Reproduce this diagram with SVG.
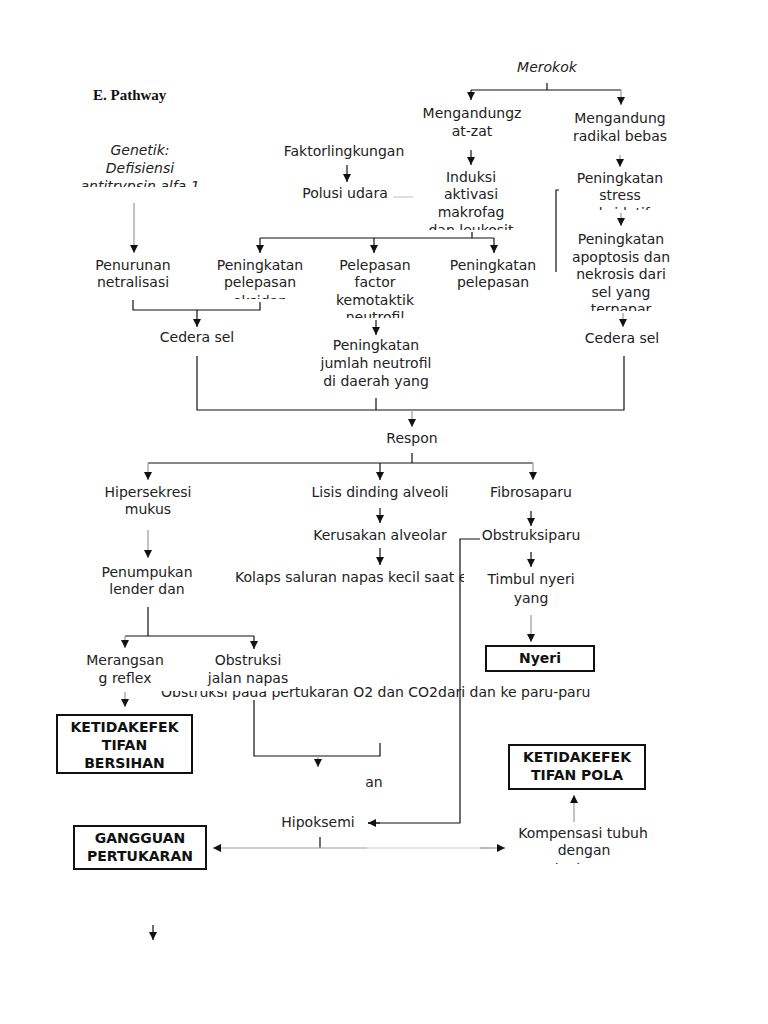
<svg xmlns="http://www.w3.org/2000/svg" width="768" height="1024" viewBox="0 0 768 1024">
<style>
text{font-family:"DejaVu Sans","Noto Sans",sans-serif;font-size:14px;fill:#222;text-anchor:middle}
.it{font-style:italic}
.b{font-weight:bold;font-size:14px;fill:#111}
.title{font-family:"Liberation Serif","DejaVu Serif",serif;font-weight:bold;font-size:15px;text-anchor:start;fill:#111}
.ln{fill:none;stroke:#111;stroke-width:1.2}
.gl{fill:none;stroke:#999;stroke-width:1.2}
.lg{fill:none;stroke:#ccc;stroke-width:1.2}
.ar{marker-end:url(#ah)}
.box{fill:#fff;stroke:#111;stroke-width:2}
</style>
<defs>
<marker id="ah" markerUnits="userSpaceOnUse" markerWidth="9" markerHeight="9" refX="8" refY="4" orient="auto"><path d="M0,0 L8,4 L0,8 z" fill="#111"/></marker>
<clipPath id="c1"><rect x="40" y="176" width="200" height="11"/></clipPath>
<clipPath id="c2"><rect x="400" y="220" width="140" height="10"/></clipPath>
<clipPath id="c3"><rect x="560" y="200" width="120" height="10"/></clipPath>
<clipPath id="c4"><rect x="560" y="298" width="120" height="13"/></clipPath>
<clipPath id="c5"><rect x="200" y="290" width="120" height="9"/></clipPath>
<clipPath id="c6"><rect x="320" y="306" width="120" height="12"/></clipPath>
<clipPath id="c7"><rect x="500" y="856" width="170" height="8"/></clipPath>
<clipPath id="c8"><rect x="200" y="560" width="264" height="40"/></clipPath>
</defs>
<rect width="768" height="1024" fill="#fff"/>

<text class="title" x="93" y="100">E. Pathway</text>

<g id="connectors">
<path class="ln" d="M547,83 V90 M471,90 H621"/>
<path class="ln ar" d="M471,90 V100"/>
<path class="gl ar" d="M621,90 V105"/>
<path class="ln ar" d="M471,150 V165"/>
<path class="gl ar" d="M620,155 V167"/>
<path class="gl ar" d="M621,213 V226"/>
<path class="ln" d="M559,190 H556 V272"/>
<path class="gl ar" d="M134,203 V253"/>
<path class="ln ar" d="M347,165 V182"/>
<path class="lg" d="M393,197 H413"/>
<path class="ln" d="M472,232 V238 M260,238 H494"/>
<path class="ln ar" d="M260,238 V253"/>
<path class="ln ar" d="M374,238 V253"/>
<path class="ln ar" d="M494,238 V253"/>
<path class="ln" d="M133,300 V310 H260 V302"/>
<path class="ln ar" d="M197,310 V327"/>
<path class="ln ar" d="M376,320 V335"/>
<path class="gl ar" d="M623,313 V327"/>
<path class="ln" d="M197,356 V410 H624 V356 M376,398 V410"/>
<path class="gl ar" d="M412,410 V427"/>
<path class="ln" d="M412,453 V463 M148,463 H533"/>
<path class="gl ar" d="M148,463 V480"/>
<path class="ln ar" d="M380,463 V480"/>
<path class="gl ar" d="M533,463 V480"/>
<path class="ln ar" d="M380,508 V523"/>
<path class="ln ar" d="M380,548 V565"/>
<path class="ln ar" d="M531,511 V526"/>
<path class="ln ar" d="M531,552 V567"/>
<path class="gl ar" d="M531,615 V642"/>
<path class="ln" d="M480,539 H460 V823 H368"/>
<path class="ln ar" d="M380,823 H368"/>
<path class="gl ar" d="M148,530 V558"/>
<path class="ln" d="M148,607 V636 M125,636 H254"/>
<path class="gl ar" d="M125,636 V648"/>
<path class="ln ar" d="M254,636 V649"/>
<path class="gl ar" d="M125,692 V707"/>
<path class="ln" d="M254,700 V756 H380 V743"/>
<path class="gl ar" d="M318,756 V767"/>
<path class="ln" d="M320,837 V848"/>
<path class="gl ar" d="M367,848 H213"/>
<path class="lg" d="M367,848 H490"/>
<path class="gl ar" d="M480,848 H505"/>
<path class="gl ar" d="M574,822 V795"/>
<path class="ln ar" d="M153,925 V940"/>
</g>

<g id="merokok"><text class="it" x="547" y="72">Merokok</text></g>
<g id="mengandung-zat"><text x="472" y="118">Mengandungz</text><text x="472" y="136">at-zat</text></g>
<g id="radikal"><text x="620" y="123">Mengandung</text><text x="620" y="141">radikal bebas</text></g>
<g id="induksi"><text x="471" y="182">Induksi</text><text x="471" y="199">aktivasi</text><text x="471" y="217">makrofag</text><text x="471" y="235" clip-path="url(#c2)">dan leukosit</text></g>
<g id="stress"><text x="620" y="183">Peningkatan</text><text x="620" y="200">stress</text><text x="620" y="218" clip-path="url(#c3)">oksidatif</text></g>
<g id="apoptosis"><text x="621" y="244">Peningkatan</text><text x="621" y="262">apoptosis dan</text><text x="621" y="279">nekrosis dari</text><text x="621" y="297">sel yang</text><text x="621" y="314" clip-path="url(#c4)">terpapar</text></g>
<g id="cedera-kanan"><text x="622" y="343">Cedera sel</text></g>
<g id="genetik"><text class="it" x="140" y="155">Genetik:</text><text class="it" x="140" y="173">Defisiensi</text><text class="it" x="140" y="191" clip-path="url(#c1)">antitrypsin alfa 1</text></g>
<g id="faktor"><text x="344" y="156">Faktorlingkungan</text></g>
<g id="polusi"><text x="345" y="198">Polusi udara</text></g>
<g id="penurunan"><text x="133" y="270">Penurunan</text><text x="133" y="287">netralisasi</text></g>
<g id="pelepasan-1"><text x="260" y="270">Peningkatan</text><text x="260" y="287">pelepasan</text><text x="260" y="306" clip-path="url(#c5)">oksidan</text></g>
<g id="kemotaktik"><text x="375" y="270">Pelepasan</text><text x="375" y="287">factor</text><text x="375" y="305">kemotaktik</text><text x="375" y="322" clip-path="url(#c6)">neutrofil</text></g>
<g id="pelepasan-2"><text x="493" y="270">Peningkatan</text><text x="493" y="287">pelepasan</text></g>
<g id="cedera-kiri"><text x="197" y="342">Cedera sel</text></g>
<g id="neutrofil"><text x="376" y="350">Peningkatan</text><text x="376" y="368">jumlah neutrofil</text><text x="376" y="386">di daerah yang</text></g>
<g id="respon"><text x="412" y="443">Respon</text></g>
<g id="hipersekresi"><text x="148" y="497">Hipersekresi</text><text x="148" y="514">mukus</text></g>
<g id="lisis"><text x="380" y="497">Lisis dinding alveoli</text></g>
<g id="fibrosa"><text x="531" y="497">Fibrosaparu</text></g>
<g id="kerusakan"><text x="380" y="540">Kerusakan alveolar</text></g>
<g id="obstruksiparu"><text x="531" y="540">Obstruksiparu</text></g>
<g id="kolaps"><text x="235" y="582" style="text-anchor:start" clip-path="url(#c8)">Kolaps saluran napas kecil saat e</text></g>
<g id="timbul"><text x="531" y="584">Timbul nyeri</text><text x="531" y="603">yang</text></g>
<g id="nyeri"><rect class="box" x="486" y="646" width="108" height="25"/><text class="b" x="540" y="663">Nyeri</text></g>
<g id="penumpukan"><text x="147" y="577">Penumpukan</text><text x="147" y="594">lender dan</text></g>
<g id="obstruksi-pertukaran"><text x="161" y="697" style="text-anchor:start">Obstruksi pada pertukaran O2 dan CO2dari dan ke paru-paru</text></g>
<g id="merangsang"><text x="125" y="665">Merangsan</text><text x="125" y="683">g reflex</text></g>
<g id="obstruksi-jalan"><rect x="153" y="670" width="135" height="21" fill="#fff"/><text x="248" y="665">Obstruksi</text><text x="248" y="683">jalan napas</text></g>
<g id="bersihan"><rect class="box" x="57" y="715" width="135" height="58"/><text class="b" x="124.5" y="732">KETIDAKEFEK</text><text class="b" x="124.5" y="750">TIFAN</text><text class="b" x="124.5" y="768">BERSIHAN</text></g>
<g id="an"><text x="374" y="787">an</text></g>
<g id="pola"><rect class="box" x="509" y="745" width="136" height="44"/><text class="b" x="577" y="762">KETIDAKEFEK</text><text class="b" x="577" y="780">TIFAN POLA</text></g>
<g id="kompensasi"><text x="583" y="838">Kompensasi tubuh</text><text x="584" y="855">dengan</text><text x="584" y="874" clip-path="url(#c7)">peningkatan RR</text></g>
<g id="hipoksemi"><text x="318" y="827">Hipoksemi</text></g>
<g id="gangguan"><rect class="box" x="74" y="826" width="132" height="43"/><text class="b" x="140" y="843">GANGGUAN</text><text class="b" x="140" y="861">PERTUKARAN</text></g>
</svg>
